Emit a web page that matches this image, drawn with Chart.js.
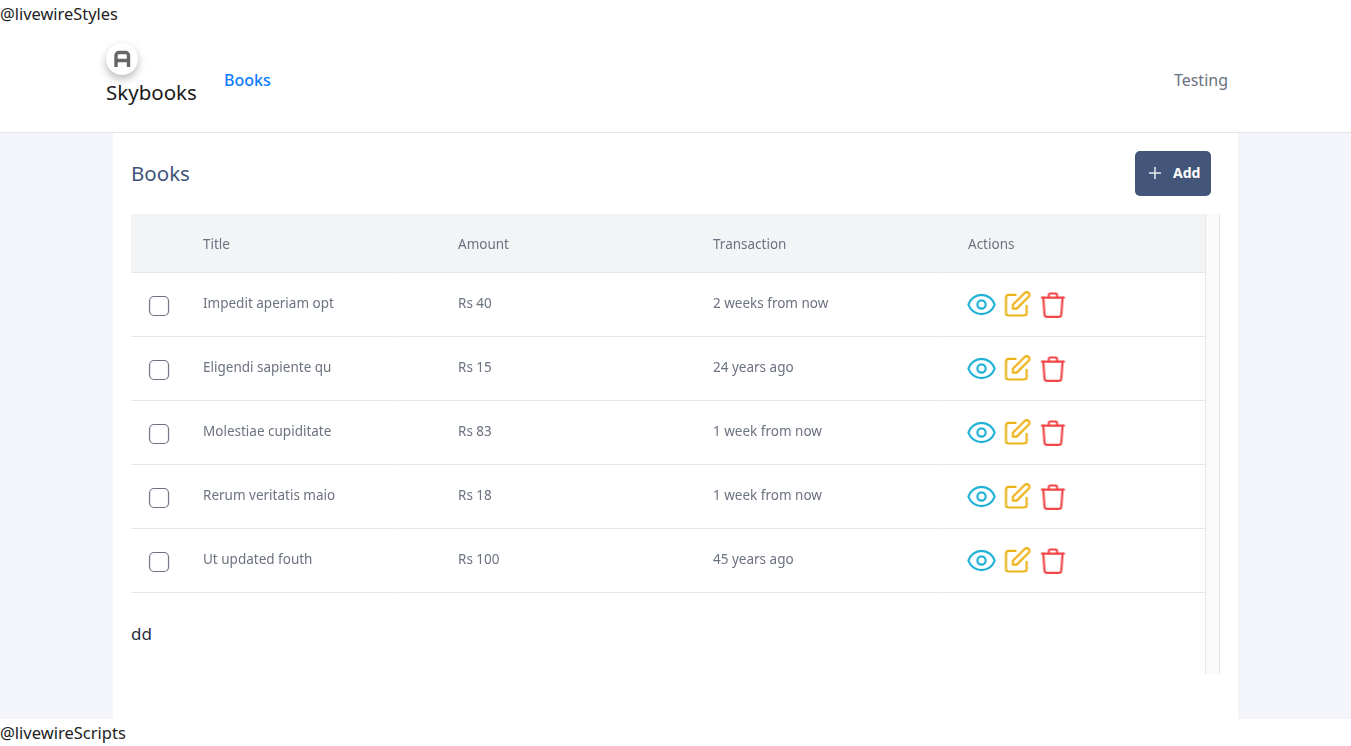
<!DOCTYPE html>
<html>
<head>
<meta charset="utf-8">
<title>Skybooks</title>
<script src="https://cdn.jsdelivr.net/npm/chart.js@4"></script>
<style>
  html, body { margin: 0; padding: 0; background: #fff; width: 1351px; height: 746px; overflow: hidden; }
  body { font-family: "Noto Sans", sans-serif; position: relative; }
  .abs { position: absolute; white-space: nowrap; line-height: 1; }
  #nav { position: absolute; left: 0; top: 0; width: 1351px; height: 132px; background: #fff; border-bottom: 1px solid #e2e5ec; }
  #page { position: absolute; left: 0; top: 133px; width: 1351px; height: 586px; background: #f4f5fa; }
  #card { position: absolute; left: 113px; top: 133px; width: 1125px; height: 586px; background: #fff; }
  #logo { position: absolute; left: 106px; top: 43px; width: 32px; height: 32px; border-radius: 50%; background: #fff; box-shadow: 0 4px 9px rgba(0,0,0,.28); }
  #add { position: absolute; left: 1135px; top: 151px; width: 76px; height: 45px; border-radius: 5px; background: #435679; }
  #strip { position: absolute; left: 1205px; top: 214px; width: 13px; height: 460px; background: #fafafa; border-left: 1px solid #e5e7eb; border-right: 1px solid #e5e7eb; }
  #tableChart { position: absolute; left: 131px; top: 214px; }
</style>
</head>
<body>
<div id="page"></div>
<div id="card"></div>
<div id="nav"></div>
<div class="abs" style="left:0;top:6px;font-size:16.4px;color:#222">@livewireStyles</div>
<div id="logo">
  <svg width="32" height="32" viewBox="0 0 32 32"><path d="M10 24V12.5a3 3 0 0 1 3-3h6.500a3 3 0 0 1 3 3V24M10 17.500H22.500" fill="none" stroke="#666" stroke-width="3.400"/></svg>
</div>
<div class="abs" style="left:106px;top:82px;font-size:20.500px;color:#1a1a1a">Skybooks</div>
<div class="abs" style="left:224px;top:72px;font-size:16px;font-weight:500;color:#0a7cff">Books</div>
<div class="abs" style="right:123px;top:72px;font-size:16px;color:#6b7280">Testing</div>
<div class="abs" style="left:131px;top:163px;font-size:20.500px;color:#3f5578">Books</div>
<div id="add">
  <svg style="position:absolute;left:13px;top:15px" width="14" height="14" viewBox="0 0 14 14"><path d="M7 1V13M1 7H13" stroke="#e8ebf0" stroke-width="1.500"/></svg>
  <div class="abs" style="left:38px;top:15px;font-size:14px;font-weight:700;color:#fff">Add</div>
</div>
<div id="strip"></div>
<canvas id="tableChart" width="1074" height="380"></canvas>
<div class="abs" style="left:131px;top:625px;font-size:17px;color:#1f2d3d">dd</div>
<div class="abs" style="left:0;top:725px;font-size:16.500px;color:#222">@livewireScripts</div>

<script>
// 表格內容
const columns = ['Title', 'Amount', 'Transaction', 'Actions'];
const titles = ['Impedit aperiam opt', 'Eligendi sapiente qu', 'Molestiae cupiditate', 'Rerum veritatis maio', 'Ut updated fouth'];
const amounts = [40, 15, 83, 18, 100];
const transactions = ['2 weeks from now', '24 years ago', '1 week from now', '1 week from now', '45 years ago'];
const rows = [1, 2, 3, 4, 5];

// 欄位在x軸上的位置 (Title=0, Amount=1 ...)
const checkColumn = -0.1725;
const eyeColumn = 3.053;
const editColumn = 3.192;
const trashColumn = 3.333;
const headerRow = 0.031;

const cellFont = '13.5px "Noto Sans", sans-serif';
const cellColor = '#6b7280';

// 把圖示畫成pointStyle用的canvas
function makeIcon(paths, color) {
  const size = 33;
  const c = document.createElement('canvas');
  c.width = size;
  c.height = size;
  const g = c.getContext('2d');
  g.scale(size / 24, size / 24);
  g.strokeStyle = color;
  g.lineWidth = 1.6;
  g.lineCap = 'round';
  g.lineJoin = 'round';
  paths.forEach(p => g.stroke(new Path2D(p)));
  return c;
}

function makeCheckbox() {
  const c = document.createElement('canvas');
  c.width = 24;
  c.height = 27;
  const g = c.getContext('2d');
  g.strokeStyle = '#6b7280';
  g.lineWidth = 1.2;
  g.beginPath();
  g.roundRect(2.5, 5.5, 19, 19, 4.5);
  g.stroke();
  return c;
}

const eyeIcon = makeIcon([
  'M15 12a3 3 0 11-6 0 3 3 0 016 0z',
  'M2.458 12C3.732 7.943 7.523 5 12 5c4.478 0 8.268 2.943 9.542 7-1.274 4.057-5.064 7-9.542 7-4.477 0-8.268-2.943-9.542-7z'
], '#1fb1d6');
const editIcon = makeIcon([
  'M11 5H6a2 2 0 00-2 2v11a2 2 0 002 2h11a2 2 0 002-2v-5m-1.414-9.414a2 2 0 112.828 2.828L11.828 15H9v-2.828l8.586-8.586z'
], '#ecb314');
const trashIcon = makeIcon([
  'M19 7l-.867 12.142A2 2 0 0116.138 21H7.862a2 2 0 01-1.995-1.858L5 7',
  'M9 7V5a1 1 0 011-1h4a1 1 0 011 1v2',
  'M4 7h16'
], '#f04848');
const checkIcon = makeCheckbox();

// 表頭底色
const headerBand = {
  id: 'headerBand',
  beforeDraw(chart) {
    const x = chart.scales.x;
    chart.ctx.save();
    chart.ctx.fillStyle = '#f3f4f6';
    chart.ctx.fillRect(0, 0, chart.width, x.bottom);
    chart.ctx.restore();
  }
};

// 文字欄位
const cellText = {
  id: 'cellText',
  afterDatasetsDraw(chart) {
    const ctx = chart.ctx;
    ctx.save();
    ctx.font = cellFont;
    ctx.fillStyle = cellColor;
    ctx.textBaseline = 'middle';
    chart.data.datasets.forEach(ds => {
      if (!ds.cells) return;
      ds.data.forEach((p, i) => {
        ctx.fillText(ds.cells[i], chart.scales.x.getPixelForValue(p.x), chart.scales.y.getPixelForValue(p.y));
      });
    });
    ctx.restore();
  }
};

function textColumn(name, col, cells) {
  return { label: name, data: rows.map(r => ({ x: col, y: r })), cells: cells, pointRadius: 0 };
}
function iconColumn(name, col, icon, rowList) {
  return { label: name, data: rowList.map(r => ({ x: col, y: r })), pointStyle: icon, clip: false };
}

new Chart(document.getElementById('tableChart'), {
  type: 'scatter',
  data: {
    datasets: [
      iconColumn('Select', checkColumn, checkIcon, [headerRow].concat(rows)),
      textColumn(columns[0], 0, titles),
      textColumn(columns[1], 1, amounts.map(a => 'Rs ' + a)),
      textColumn(columns[2], 2, transactions),
      iconColumn('View', eyeColumn, eyeIcon, rows),
      iconColumn('Edit', editColumn, editIcon, rows),
      iconColumn('Delete', trashColumn, trashIcon, rows)
    ]
  },
  options: {
    responsive: false,
    animation: false,
    layout: { autoPadding: false, padding: { bottom: 1.5 } },
    plugins: { legend: { display: false }, tooltip: { enabled: false } },
    scales: {
      x: {
        type: 'linear',
        position: 'top',
        min: -0.28235,
        max: 3.92941,
        grid: { display: false },
        border: { display: false },
        afterBuildTicks: axis => { axis.ticks = columns.map((c, i) => ({ value: i })); },
        afterFit: axis => { axis.height = 58.5; },
        ticks: {
          align: 'start',
          padding: 11.5,
          maxRotation: 0,
          autoSkip: false,
          color: cellColor,
          font: { family: '"Noto Sans", sans-serif', size: 13.5 },
          callback: v => columns[v]
        }
      },
      y: {
        type: 'linear',
        reverse: true,
        min: 0.5,
        max: 5.5,
        grid: { color: '#e5e7eb', drawTicks: false },
        border: { display: false },
        afterBuildTicks: axis => { axis.ticks = [0.5, 1.5, 2.5, 3.5, 4.5, 5.5].map(v => ({ value: v })); },
        ticks: { display: false }
      }
    }
  },
  plugins: [headerBand, cellText]
});
</script>
</body>
</html>
